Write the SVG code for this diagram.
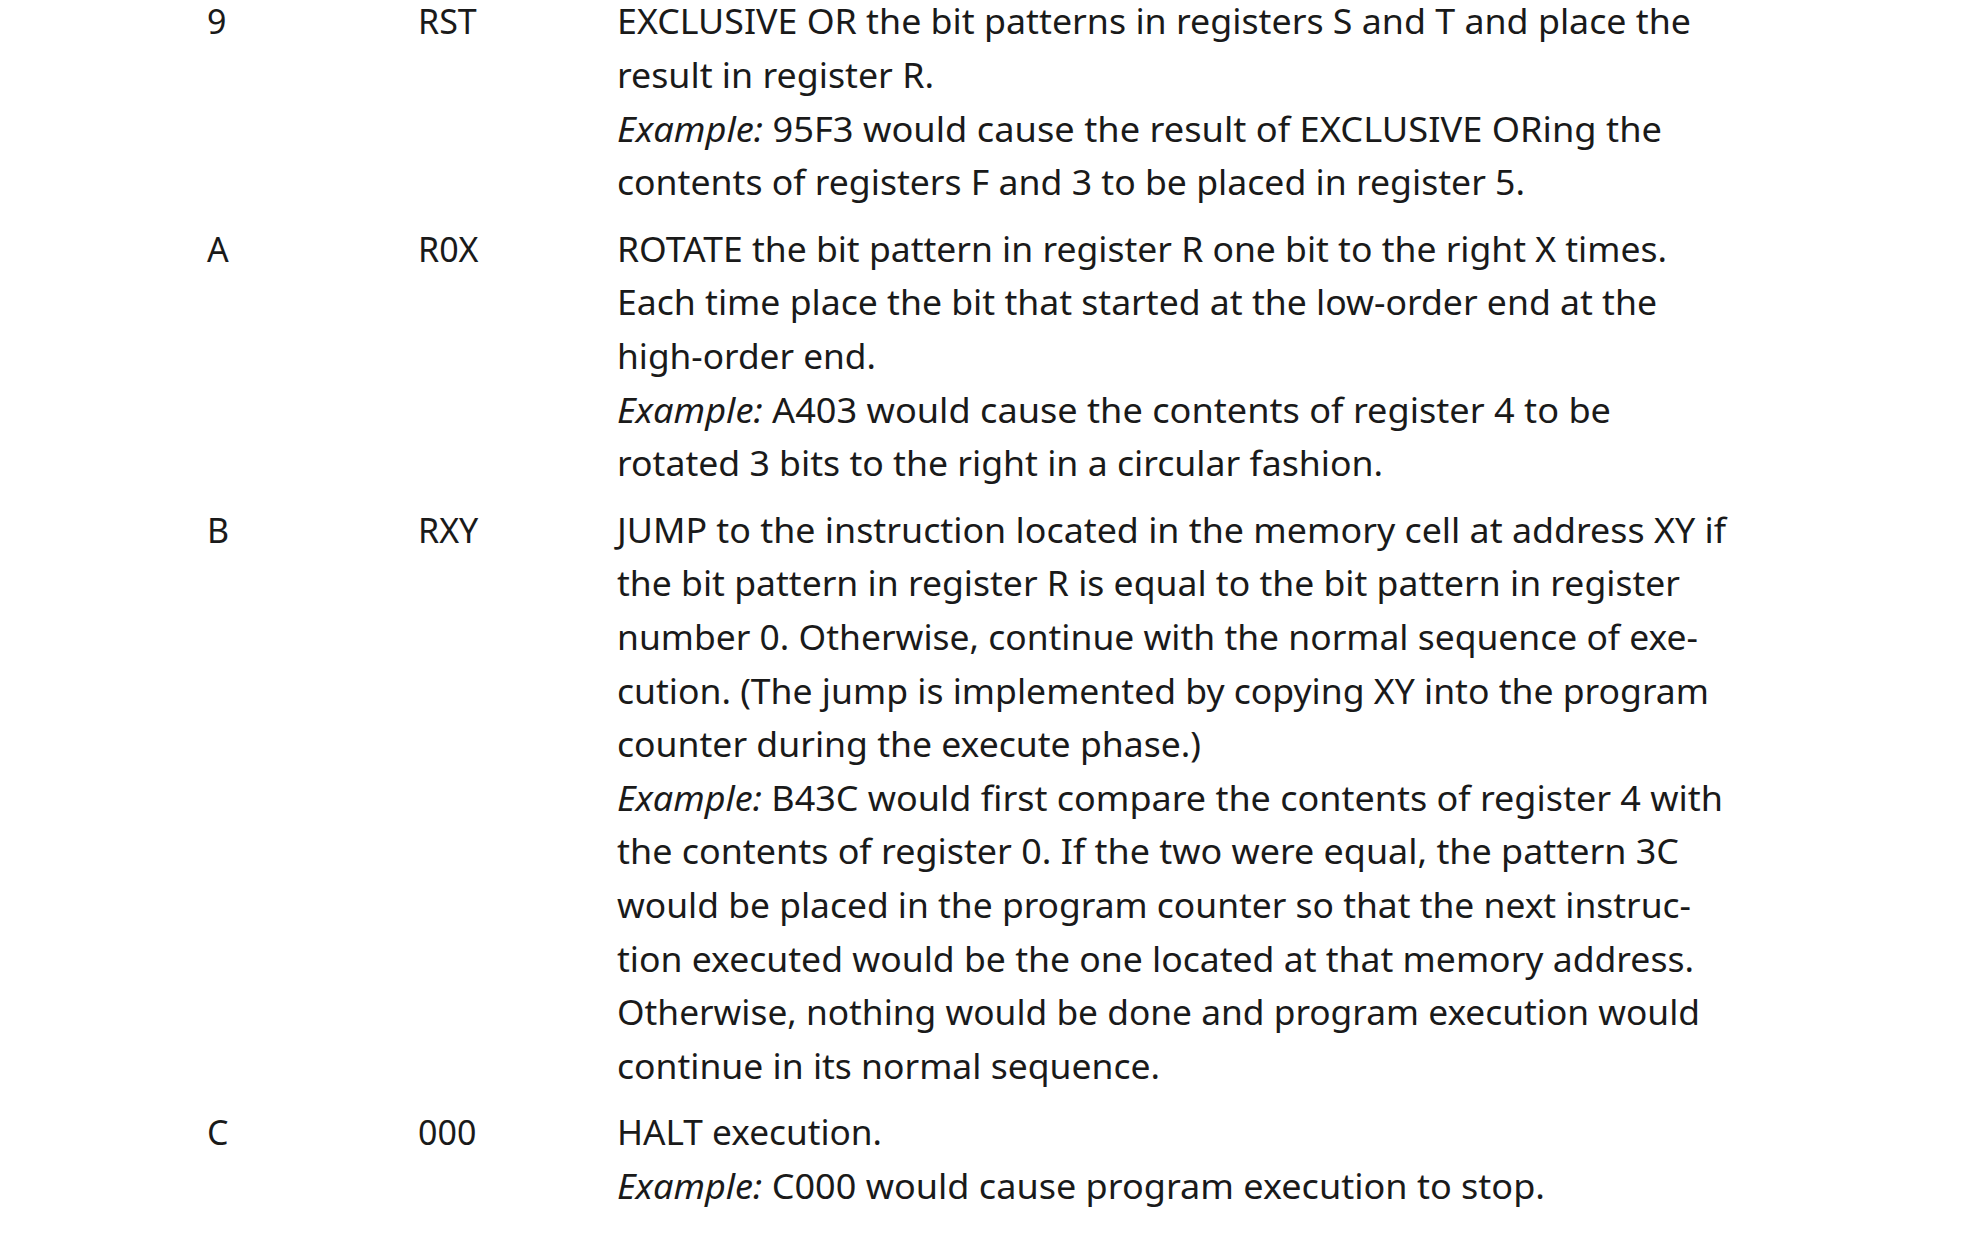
<svg xmlns="http://www.w3.org/2000/svg" width="1982" height="1244" viewBox="0 0 1982 1244">
<style>
text{font-family:"Noto Sans","Open Sans",sans-serif;font-size:34px;fill:#1a1a1a}
.i{font-style:italic}
</style>
<rect width="1982" height="1244" fill="#fff"/>
<g transform="translate(-5,0)">
<g id="row9">
<text x="212" y="34">9</text><text x="423" y="34">RST</text>
<text x="622" y="34" textLength="1074" lengthAdjust="spacingAndGlyphs">EXCLUSIVE OR the bit patterns in registers S and T and place the</text>
<text x="622" y="88" textLength="317" lengthAdjust="spacingAndGlyphs">result in register R.</text>
<text x="622" y="142" textLength="1045" lengthAdjust="spacingAndGlyphs"><tspan class="i">Example:</tspan> 95F3 would cause the result of EXCLUSIVE ORing the</text>
<text x="622" y="195" textLength="908" lengthAdjust="spacingAndGlyphs">contents of registers F and 3 to be placed in register 5.</text>
</g>
<g id="rowA">
<text x="212" y="262">A</text><text x="423" y="262">R0X</text>
<text x="622" y="262" textLength="1050" lengthAdjust="spacingAndGlyphs">ROTATE the bit pattern in register R one bit to the right X times.</text>
<text x="622" y="315" textLength="1040" lengthAdjust="spacingAndGlyphs">Each time place the bit that started at the low-order end at the</text>
<text x="622" y="369" textLength="259" lengthAdjust="spacingAndGlyphs">high-order end.</text>
<text x="622" y="423" textLength="994" lengthAdjust="spacingAndGlyphs"><tspan class="i">Example:</tspan> A403 would cause the contents of register 4 to be</text>
<text x="622" y="476" textLength="766" lengthAdjust="spacingAndGlyphs">rotated 3 bits to the right in a circular fashion.</text>
</g>
<g id="rowB">
<text x="212" y="543">B</text><text x="423" y="543">RXY</text>
<text x="622" y="543" textLength="1109" lengthAdjust="spacingAndGlyphs">JUMP to the instruction located in the memory cell at address XY if</text>
<text x="622" y="596" textLength="1063" lengthAdjust="spacingAndGlyphs">the bit pattern in register R is equal to the bit pattern in register</text>
<text x="622" y="650" textLength="1081" lengthAdjust="spacingAndGlyphs">number 0. Otherwise, continue with the normal sequence of exe-</text>
<text x="622" y="704" textLength="1092" lengthAdjust="spacingAndGlyphs">cution. (The jump is implemented by copying XY into the program</text>
<text x="622" y="757" textLength="584" lengthAdjust="spacingAndGlyphs">counter during the execute phase.)</text>
<text x="622" y="811" textLength="1106" lengthAdjust="spacingAndGlyphs"><tspan class="i">Example:</tspan> B43C would first compare the contents of register 4 with</text>
<text x="622" y="864" textLength="1062" lengthAdjust="spacingAndGlyphs">the contents of register 0. If the two were equal, the pattern 3C</text>
<text x="622" y="918" textLength="1074" lengthAdjust="spacingAndGlyphs">would be placed in the program counter so that the next instruc-</text>
<text x="622" y="972" textLength="1077" lengthAdjust="spacingAndGlyphs">tion executed would be the one located at that memory address.</text>
<text x="622" y="1025" textLength="1083" lengthAdjust="spacingAndGlyphs">Otherwise, nothing would be done and program execution would</text>
<text x="622" y="1079" textLength="543" lengthAdjust="spacingAndGlyphs">continue in its normal sequence.</text>
</g>
<g id="rowC">
<text x="212" y="1145">C</text><text x="423" y="1145">000</text>
<text x="622" y="1145" textLength="265" lengthAdjust="spacingAndGlyphs">HALT execution.</text>
<text x="622" y="1199" textLength="928" lengthAdjust="spacingAndGlyphs"><tspan class="i">Example:</tspan> C000 would cause program execution to stop.</text>
</g>
</g>
<g id="connectors"/>
</svg>
